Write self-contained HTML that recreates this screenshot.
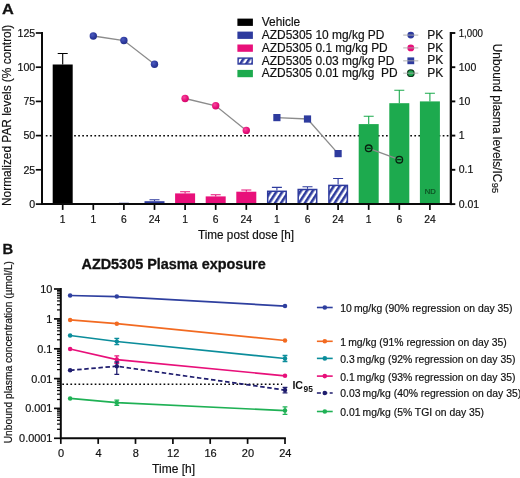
<!DOCTYPE html>
<html lang="en"><head><meta charset="utf-8"><title>AZD5305 PK/PD</title>
<style>html,body{margin:0;padding:0;background:#fff}svg{display:block}text{font-family:"Liberation Sans", Arial, Helvetica, sans-serif;fill:#111;stroke:#111;stroke-width:0.18px}</style>
</head><body>
<svg width="520" height="478" viewBox="0 0 520 478">
<rect width="520" height="478" fill="#fff"/>
<defs><pattern id="hatch" width="5" height="5" patternUnits="userSpaceOnUse" patternTransform="rotate(33)"><rect width="5" height="5" fill="#fff"/><rect width="2.6" height="5" fill="#2e3b9e"/></pattern>
<radialGradient id="gb" cx="0.38" cy="0.35" r="0.7"><stop offset="0" stop-color="#4c5bc0"/><stop offset="0.6" stop-color="#2e3b9e"/><stop offset="1" stop-color="#232e86"/></radialGradient>
<radialGradient id="gp" cx="0.38" cy="0.35" r="0.7"><stop offset="0" stop-color="#f54a9e"/><stop offset="0.6" stop-color="#e8107a"/><stop offset="1" stop-color="#cc0a68"/></radialGradient>
</defs>
<text transform="translate(2.0 13.8)" font-size="15.2" font-weight="bold" textLength="11.8" lengthAdjust="spacingAndGlyphs" style="stroke:#111;stroke-width:0.3px">A</text>
<line x1="45.8" y1="135.7" x2="449" y2="135.7" stroke="#0a0a0a" stroke-width="1.6" stroke-dasharray="1.7 2.35"/>
<path d="M62.7 64.5 V53.5 M57.7 53.5 H67.7" stroke="#000" stroke-width="1.1" fill="none"/>
<rect x="52.7" y="64.5" width="20" height="139.6" fill="#000"/>
<path d="M93.3 203.8 V203.7 M88.3 203.7 H98.3" stroke="#2e3b9e" stroke-width="1.1" fill="none"/>
<rect x="83.3" y="203.8" width="20" height="0.2" fill="#2e3b9e"/>
<path d="M123.9 203.5 V203.2 M118.9 203.2 H128.9" stroke="#2e3b9e" stroke-width="1.1" fill="none"/>
<rect x="113.9" y="203.5" width="20" height="0.5" fill="#2e3b9e"/>
<path d="M154.5 201.2 V199.8 M149.5 199.8 H159.5" stroke="#2e3b9e" stroke-width="1.1" fill="none"/>
<rect x="144.5" y="201.2" width="20" height="2.9" fill="#2e3b9e"/>
<path d="M185.1 193.4 V191.7 M180.1 191.7 H190.1" stroke="#e8107a" stroke-width="1.1" fill="none"/>
<rect x="175.1" y="193.4" width="20" height="10.7" fill="#e8107a"/>
<path d="M215.7 196.4 V194.7 M210.7 194.7 H220.7" stroke="#e8107a" stroke-width="1.1" fill="none"/>
<rect x="205.7" y="196.4" width="20" height="7.7" fill="#e8107a"/>
<path d="M246.3 191.7 V190.0 M241.3 190.0 H251.3" stroke="#e8107a" stroke-width="1.1" fill="none"/>
<rect x="236.3" y="191.7" width="20" height="12.3" fill="#e8107a"/>
<path d="M276.9 190.5 V187.4 M271.9 187.4 H281.9" stroke="#2e3b9e" stroke-width="1.1" fill="none"/>
<rect x="267.7" y="191.3" width="18.5" height="12.8" fill="url(#hatch)" stroke="#2e3b9e" stroke-width="1.5"/>
<path d="M307.5 188.7 V186.7 M302.5 186.7 H312.5" stroke="#2e3b9e" stroke-width="1.1" fill="none"/>
<rect x="298.2" y="189.5" width="18.5" height="14.6" fill="url(#hatch)" stroke="#2e3b9e" stroke-width="1.5"/>
<path d="M338.1 184.6 V178.5 M333.1 178.5 H343.1" stroke="#2e3b9e" stroke-width="1.1" fill="none"/>
<rect x="328.9" y="185.4" width="18.5" height="18.7" fill="url(#hatch)" stroke="#2e3b9e" stroke-width="1.5"/>
<path d="M368.7 124.1 V116.2 M363.7 116.2 H373.7" stroke="#1daa4e" stroke-width="1.1" fill="none"/>
<rect x="358.7" y="124.1" width="20" height="79.9" fill="#1daa4e"/>
<path d="M399.3 103.2 V90.2 M394.3 90.2 H404.3" stroke="#1daa4e" stroke-width="1.1" fill="none"/>
<rect x="389.3" y="103.2" width="20" height="100.9" fill="#1daa4e"/>
<path d="M429.9 101.4 V93.2 M424.9 93.2 H434.9" stroke="#1daa4e" stroke-width="1.1" fill="none"/>
<rect x="419.9" y="101.4" width="20" height="102.6" fill="#1daa4e"/>
<path d="M42 32.1 V204.1 H451.9" stroke="#0a0a0a" stroke-width="2" fill="none" stroke-linejoin="miter"/>
<line x1="450.85" y1="32.0" x2="450.85" y2="205.1" stroke="#0a0a0a" stroke-width="2.25"/>
<line x1="35.8" y1="204.1" x2="42" y2="204.1" stroke="#0a0a0a" stroke-width="1.7"/>
<text transform="translate(35.2 207.8) scale(1.020 1)" font-size="10.4" text-anchor="end">0</text>
<line x1="35.8" y1="169.8" x2="42" y2="169.8" stroke="#0a0a0a" stroke-width="1.7"/>
<text transform="translate(35.2 173.5) scale(1.020 1)" font-size="10.4" text-anchor="end">25</text>
<line x1="35.8" y1="135.6" x2="42" y2="135.6" stroke="#0a0a0a" stroke-width="1.7"/>
<text transform="translate(35.2 139.3) scale(1.020 1)" font-size="10.4" text-anchor="end">50</text>
<line x1="35.8" y1="101.4" x2="42" y2="101.4" stroke="#0a0a0a" stroke-width="1.7"/>
<text transform="translate(35.2 105.1) scale(1.020 1)" font-size="10.4" text-anchor="end">75</text>
<line x1="35.8" y1="67.2" x2="42" y2="67.2" stroke="#0a0a0a" stroke-width="1.7"/>
<text transform="translate(35.2 70.9) scale(1.020 1)" font-size="10.4" text-anchor="end">100</text>
<line x1="35.8" y1="33.0" x2="42" y2="33.0" stroke="#0a0a0a" stroke-width="1.7"/>
<text transform="translate(35.2 36.7) scale(1.020 1)" font-size="10.4" text-anchor="end">125</text>
<line x1="62.7" y1="204.1" x2="62.7" y2="209.9" stroke="#0a0a0a" stroke-width="1.7"/>
<text transform="translate(62.7 223.2)" font-size="10.3" text-anchor="middle">1</text>
<line x1="93.3" y1="204.1" x2="93.3" y2="209.9" stroke="#0a0a0a" stroke-width="1.7"/>
<text transform="translate(93.3 223.2)" font-size="10.3" text-anchor="middle">1</text>
<line x1="123.9" y1="204.1" x2="123.9" y2="209.9" stroke="#0a0a0a" stroke-width="1.7"/>
<text transform="translate(123.9 223.2)" font-size="10.3" text-anchor="middle">6</text>
<line x1="154.5" y1="204.1" x2="154.5" y2="209.9" stroke="#0a0a0a" stroke-width="1.7"/>
<text transform="translate(154.5 223.2)" font-size="10.3" text-anchor="middle">24</text>
<line x1="185.1" y1="204.1" x2="185.1" y2="209.9" stroke="#0a0a0a" stroke-width="1.7"/>
<text transform="translate(185.1 223.2)" font-size="10.3" text-anchor="middle">1</text>
<line x1="215.7" y1="204.1" x2="215.7" y2="209.9" stroke="#0a0a0a" stroke-width="1.7"/>
<text transform="translate(215.7 223.2)" font-size="10.3" text-anchor="middle">6</text>
<line x1="246.3" y1="204.1" x2="246.3" y2="209.9" stroke="#0a0a0a" stroke-width="1.7"/>
<text transform="translate(246.3 223.2)" font-size="10.3" text-anchor="middle">24</text>
<line x1="276.9" y1="204.1" x2="276.9" y2="209.9" stroke="#0a0a0a" stroke-width="1.7"/>
<text transform="translate(276.9 223.2)" font-size="10.3" text-anchor="middle">1</text>
<line x1="307.5" y1="204.1" x2="307.5" y2="209.9" stroke="#0a0a0a" stroke-width="1.7"/>
<text transform="translate(307.5 223.2)" font-size="10.3" text-anchor="middle">6</text>
<line x1="338.1" y1="204.1" x2="338.1" y2="209.9" stroke="#0a0a0a" stroke-width="1.7"/>
<text transform="translate(338.1 223.2)" font-size="10.3" text-anchor="middle">24</text>
<line x1="368.7" y1="204.1" x2="368.7" y2="209.9" stroke="#0a0a0a" stroke-width="1.7"/>
<text transform="translate(368.7 223.2)" font-size="10.3" text-anchor="middle">1</text>
<line x1="399.3" y1="204.1" x2="399.3" y2="209.9" stroke="#0a0a0a" stroke-width="1.7"/>
<text transform="translate(399.3 223.2)" font-size="10.3" text-anchor="middle">6</text>
<line x1="429.9" y1="204.1" x2="429.9" y2="209.9" stroke="#0a0a0a" stroke-width="1.7"/>
<text transform="translate(429.9 223.2)" font-size="10.3" text-anchor="middle">24</text>
<line x1="450.5" y1="33.0" x2="455.3" y2="33.0" stroke="#0a0a0a" stroke-width="1.9"/>
<text transform="translate(458.7 36.6)" font-size="10.5" textLength="24.3" lengthAdjust="spacingAndGlyphs">1,000</text>
<line x1="450.5" y1="67.2" x2="455.3" y2="67.2" stroke="#0a0a0a" stroke-width="1.9"/>
<text transform="translate(458.7 70.8)" font-size="10.5">100</text>
<line x1="450.5" y1="101.4" x2="455.3" y2="101.4" stroke="#0a0a0a" stroke-width="1.9"/>
<text transform="translate(458.7 105.0)" font-size="10.5">10</text>
<line x1="450.5" y1="135.6" x2="455.3" y2="135.6" stroke="#0a0a0a" stroke-width="1.9"/>
<text transform="translate(458.7 139.2)" font-size="10.5">1</text>
<line x1="450.5" y1="169.8" x2="455.3" y2="169.8" stroke="#0a0a0a" stroke-width="1.9"/>
<text transform="translate(458.7 173.4)" font-size="10.5">0.1</text>
<line x1="450.5" y1="204.1" x2="455.3" y2="204.1" stroke="#0a0a0a" stroke-width="1.9"/>
<text transform="translate(458.7 207.7)" font-size="10.5">0.01</text>
<text transform="translate(11.4 206.0) rotate(-90)" font-size="12" textLength="181.3" lengthAdjust="spacingAndGlyphs">Normalized PAR levels (% control)</text>
<text transform="translate(198.0 238.7)" font-size="12" textLength="96.0" lengthAdjust="spacingAndGlyphs">Time post dose [h]</text>
<text transform="translate(493.1 43.8) rotate(90)" font-size="12" textLength="149.3" lengthAdjust="spacingAndGlyphs">Unbound plasma levels/IC<tspan font-size="9.3" dx="0.6" dy="1.3">95</tspan></text>
<path d="M93.3 36.0 L123.9 40.5 L154.5 64.3" stroke="#8c8c8c" stroke-width="1.3" fill="none"/>
<circle cx="93.3" cy="36.0" r="3.7" fill="url(#gb)"/>
<circle cx="123.9" cy="40.5" r="3.7" fill="url(#gb)"/>
<circle cx="154.5" cy="64.3" r="3.7" fill="url(#gb)"/>
<path d="M185.1 98.5 L215.7 105.8 L246.3 130.4" stroke="#8c8c8c" stroke-width="1.3" fill="none"/>
<circle cx="185.1" cy="98.5" r="3.7" fill="url(#gp)"/>
<circle cx="215.7" cy="105.8" r="3.7" fill="url(#gp)"/>
<circle cx="246.3" cy="130.4" r="3.7" fill="url(#gp)"/>
<path d="M276.9 117.6 L307.5 119.0 L338.1 153.6" stroke="#8c8c8c" stroke-width="1.3" fill="none"/>
<rect x="273.3" y="114.0" width="7.2" height="7.2" fill="#2e3b9e"/>
<rect x="303.9" y="115.4" width="7.2" height="7.2" fill="#2e3b9e"/>
<rect x="334.5" y="150.0" width="7.2" height="7.2" fill="#2e3b9e"/>
<path d="M368.7 148.3 L399.3 159.7" stroke="#8c8c8c" stroke-width="1.3" fill="none"/>
<circle cx="368.7" cy="148.3" r="3.3" fill="#1daa4e" stroke="#07210f" stroke-width="1.3"/>
<line x1="366.5" y1="148.3" x2="370.9" y2="148.3" stroke="#07210f" stroke-width="1.1"/>
<circle cx="399.3" cy="159.7" r="3.3" fill="#1daa4e" stroke="#07210f" stroke-width="1.3"/>
<line x1="397.1" y1="159.7" x2="401.5" y2="159.7" stroke="#07210f" stroke-width="1.1"/>
<text transform="translate(430.2 194.4)" font-size="7.6" text-anchor="middle" style="fill:#0c4a20;stroke:#0c4a20">ND</text>
<rect x="237.4" y="18.6" width="15.5" height="7.3" fill="#000"/>
<text transform="translate(261.8 26.0)" font-size="11.93" xml:space="preserve">Vehicle</text>
<rect x="237.4" y="31.6" width="15.5" height="7.3" fill="#2e3b9e"/>
<text transform="translate(261.8 39.0)" font-size="11.93" xml:space="preserve">AZD5305 10 mg/kg PD</text>
<rect x="237.4" y="44.5" width="15.5" height="7.3" fill="#e8107a"/>
<text transform="translate(261.8 51.9)" font-size="11.93" xml:space="preserve">AZD5305 0.1 mg/kg PD</text>
<rect x="238.1" y="58.1" width="14.1" height="5.9" fill="url(#hatch)" stroke="#2e3b9e" stroke-width="1.4"/>
<text transform="translate(261.8 64.8)" font-size="11.93" xml:space="preserve">AZD5305 0.03 mg/kg PD</text>
<rect x="237.4" y="69.9" width="15.5" height="7.3" fill="#1daa4e"/>
<text transform="translate(261.8 77.3)" font-size="11.93" xml:space="preserve">AZD5305 0.01 mg/kg  PD</text>
<circle cx="410.8" cy="35.1" r="3.45" fill="#2e3b9e"/>
<line x1="403.2" y1="35.1" x2="418.3" y2="35.1" stroke="#a8a8a8" stroke-width="1.2" opacity="0.75"/>
<text transform="translate(427.2 38.6)" font-size="12">PK</text>
<circle cx="410.8" cy="47.9" r="3.45" fill="#e8107a"/>
<line x1="403.2" y1="47.9" x2="418.3" y2="47.9" stroke="#a8a8a8" stroke-width="1.2" opacity="0.75"/>
<text transform="translate(427.2 51.5)" font-size="12">PK</text>
<rect x="407.4" y="57.4" width="6.8" height="6.8" fill="#2e3b9e"/>
<line x1="403.2" y1="60.8" x2="418.3" y2="60.8" stroke="#a8a8a8" stroke-width="1.2" opacity="0.75"/>
<text transform="translate(427.2 64.2)" font-size="12">PK</text>
<circle cx="410.8" cy="73.2" r="3.3" fill="#1daa4e" stroke="#0c3a1c" stroke-width="1.2"/>
<line x1="403.2" y1="73.2" x2="418.3" y2="73.2" stroke="#a8a8a8" stroke-width="1.2" opacity="0.75"/>
<text transform="translate(427.2 77.0)" font-size="12">PK</text>
<text transform="translate(2.5 253.7)" font-size="15.4" font-weight="bold" textLength="10.7" lengthAdjust="spacingAndGlyphs" style="stroke:#111;stroke-width:0.3px">B</text>
<text transform="translate(81.5 268.8)" font-size="13.9" font-weight="bold" textLength="184.2" lengthAdjust="spacingAndGlyphs" style="stroke:#111;stroke-width:0.3px">AZD5305 Plasma exposure</text>
<line x1="62.3" y1="384.3" x2="282.2" y2="384.3" stroke="#0a0a0a" stroke-width="1.6" stroke-dasharray="1.7 2.35"/>
<path d="M60.8 288.1 V438.3 H285.9" stroke="#0a0a0a" stroke-width="2" fill="none"/>
<line x1="54" y1="438.3" x2="60.8" y2="438.3" stroke="#0a0a0a" stroke-width="1.7"/>
<text transform="translate(52.4 442.3)" font-size="10.9" text-anchor="end">0.0001</text>
<line x1="57" y1="429.3" x2="60.8" y2="429.3" stroke="#0a0a0a" stroke-width="1.25"/>
<line x1="57" y1="424.1" x2="60.8" y2="424.1" stroke="#0a0a0a" stroke-width="1.25"/>
<line x1="57" y1="420.3" x2="60.8" y2="420.3" stroke="#0a0a0a" stroke-width="1.25"/>
<line x1="57" y1="417.4" x2="60.8" y2="417.4" stroke="#0a0a0a" stroke-width="1.25"/>
<line x1="57" y1="415.1" x2="60.8" y2="415.1" stroke="#0a0a0a" stroke-width="1.25"/>
<line x1="57" y1="413.1" x2="60.8" y2="413.1" stroke="#0a0a0a" stroke-width="1.25"/>
<line x1="57" y1="411.3" x2="60.8" y2="411.3" stroke="#0a0a0a" stroke-width="1.25"/>
<line x1="57" y1="409.8" x2="60.8" y2="409.8" stroke="#0a0a0a" stroke-width="1.25"/>
<line x1="54" y1="408.4" x2="60.8" y2="408.4" stroke="#0a0a0a" stroke-width="1.7"/>
<text transform="translate(52.4 412.4)" font-size="10.9" text-anchor="end">0.001</text>
<line x1="57" y1="399.5" x2="60.8" y2="399.5" stroke="#0a0a0a" stroke-width="1.25"/>
<line x1="57" y1="394.2" x2="60.8" y2="394.2" stroke="#0a0a0a" stroke-width="1.25"/>
<line x1="57" y1="390.5" x2="60.8" y2="390.5" stroke="#0a0a0a" stroke-width="1.25"/>
<line x1="57" y1="387.6" x2="60.8" y2="387.6" stroke="#0a0a0a" stroke-width="1.25"/>
<line x1="57" y1="385.2" x2="60.8" y2="385.2" stroke="#0a0a0a" stroke-width="1.25"/>
<line x1="57" y1="383.2" x2="60.8" y2="383.2" stroke="#0a0a0a" stroke-width="1.25"/>
<line x1="57" y1="381.5" x2="60.8" y2="381.5" stroke="#0a0a0a" stroke-width="1.25"/>
<line x1="57" y1="380.0" x2="60.8" y2="380.0" stroke="#0a0a0a" stroke-width="1.25"/>
<line x1="54" y1="378.6" x2="60.8" y2="378.6" stroke="#0a0a0a" stroke-width="1.7"/>
<text transform="translate(52.4 382.6)" font-size="10.9" text-anchor="end">0.01</text>
<line x1="57" y1="369.6" x2="60.8" y2="369.6" stroke="#0a0a0a" stroke-width="1.25"/>
<line x1="57" y1="364.4" x2="60.8" y2="364.4" stroke="#0a0a0a" stroke-width="1.25"/>
<line x1="57" y1="360.6" x2="60.8" y2="360.6" stroke="#0a0a0a" stroke-width="1.25"/>
<line x1="57" y1="357.7" x2="60.8" y2="357.7" stroke="#0a0a0a" stroke-width="1.25"/>
<line x1="57" y1="355.4" x2="60.8" y2="355.4" stroke="#0a0a0a" stroke-width="1.25"/>
<line x1="57" y1="353.4" x2="60.8" y2="353.4" stroke="#0a0a0a" stroke-width="1.25"/>
<line x1="57" y1="351.6" x2="60.8" y2="351.6" stroke="#0a0a0a" stroke-width="1.25"/>
<line x1="57" y1="350.1" x2="60.8" y2="350.1" stroke="#0a0a0a" stroke-width="1.25"/>
<line x1="54" y1="348.8" x2="60.8" y2="348.8" stroke="#0a0a0a" stroke-width="1.7"/>
<text transform="translate(52.4 352.8)" font-size="10.9" text-anchor="end">0.1</text>
<line x1="57" y1="339.8" x2="60.8" y2="339.8" stroke="#0a0a0a" stroke-width="1.25"/>
<line x1="57" y1="334.5" x2="60.8" y2="334.5" stroke="#0a0a0a" stroke-width="1.25"/>
<line x1="57" y1="330.8" x2="60.8" y2="330.8" stroke="#0a0a0a" stroke-width="1.25"/>
<line x1="57" y1="327.9" x2="60.8" y2="327.9" stroke="#0a0a0a" stroke-width="1.25"/>
<line x1="57" y1="325.5" x2="60.8" y2="325.5" stroke="#0a0a0a" stroke-width="1.25"/>
<line x1="57" y1="323.5" x2="60.8" y2="323.5" stroke="#0a0a0a" stroke-width="1.25"/>
<line x1="57" y1="321.8" x2="60.8" y2="321.8" stroke="#0a0a0a" stroke-width="1.25"/>
<line x1="57" y1="320.3" x2="60.8" y2="320.3" stroke="#0a0a0a" stroke-width="1.25"/>
<line x1="54" y1="318.9" x2="60.8" y2="318.9" stroke="#0a0a0a" stroke-width="1.7"/>
<text transform="translate(52.4 322.9)" font-size="10.9" text-anchor="end">1</text>
<line x1="57" y1="309.9" x2="60.8" y2="309.9" stroke="#0a0a0a" stroke-width="1.25"/>
<line x1="57" y1="304.7" x2="60.8" y2="304.7" stroke="#0a0a0a" stroke-width="1.25"/>
<line x1="57" y1="300.9" x2="60.8" y2="300.9" stroke="#0a0a0a" stroke-width="1.25"/>
<line x1="57" y1="298.0" x2="60.8" y2="298.0" stroke="#0a0a0a" stroke-width="1.25"/>
<line x1="57" y1="295.7" x2="60.8" y2="295.7" stroke="#0a0a0a" stroke-width="1.25"/>
<line x1="57" y1="293.7" x2="60.8" y2="293.7" stroke="#0a0a0a" stroke-width="1.25"/>
<line x1="57" y1="291.9" x2="60.8" y2="291.9" stroke="#0a0a0a" stroke-width="1.25"/>
<line x1="57" y1="290.4" x2="60.8" y2="290.4" stroke="#0a0a0a" stroke-width="1.25"/>
<line x1="54" y1="289.0" x2="60.8" y2="289.0" stroke="#0a0a0a" stroke-width="1.7"/>
<text transform="translate(52.4 293.0)" font-size="10.9" text-anchor="end">10</text>
<line x1="60.8" y1="438.3" x2="60.8" y2="443.9" stroke="#0a0a0a" stroke-width="1.7"/>
<text transform="translate(61.1 456.6)" font-size="11" text-anchor="middle">0</text>
<line x1="98.2" y1="438.3" x2="98.2" y2="443.9" stroke="#0a0a0a" stroke-width="1.7"/>
<text transform="translate(98.5 456.6)" font-size="11" text-anchor="middle">4</text>
<line x1="135.5" y1="438.3" x2="135.5" y2="443.9" stroke="#0a0a0a" stroke-width="1.7"/>
<text transform="translate(135.8 456.6)" font-size="11" text-anchor="middle">8</text>
<line x1="172.9" y1="438.3" x2="172.9" y2="443.9" stroke="#0a0a0a" stroke-width="1.7"/>
<text transform="translate(173.2 456.6)" font-size="11" text-anchor="middle">12</text>
<line x1="210.2" y1="438.3" x2="210.2" y2="443.9" stroke="#0a0a0a" stroke-width="1.7"/>
<text transform="translate(210.5 456.6)" font-size="11" text-anchor="middle">16</text>
<line x1="247.6" y1="438.3" x2="247.6" y2="443.9" stroke="#0a0a0a" stroke-width="1.7"/>
<text transform="translate(247.9 456.6)" font-size="11" text-anchor="middle">20</text>
<line x1="285.0" y1="438.3" x2="285.0" y2="443.9" stroke="#0a0a0a" stroke-width="1.7"/>
<text transform="translate(285.3 456.6)" font-size="11" text-anchor="middle">24</text>
<text transform="translate(152.1 473.2)" font-size="12">Time [h]</text>
<text transform="translate(11.7 443.3) rotate(-90)" font-size="10.2" textLength="182.3" lengthAdjust="spacingAndGlyphs">Unbound plasma concentration (µmol/L)</text>
<path d="M70.1 295.5 L116.8 296.6 L285.0 306.1" stroke="#2e3f9f" stroke-width="1.7" fill="none"/>
<circle cx="70.1" cy="295.5" r="2.25" fill="#2e3f9f"/>
<circle cx="116.8" cy="296.6" r="2.25" fill="#2e3f9f"/>
<circle cx="285.0" cy="306.1" r="2.25" fill="#2e3f9f"/>
<path d="M70.1 319.9 L116.8 323.7 L285.0 340.5" stroke="#f26a21" stroke-width="1.7" fill="none"/>
<circle cx="70.1" cy="319.9" r="2.25" fill="#f26a21"/>
<circle cx="116.8" cy="323.7" r="2.25" fill="#f26a21"/>
<circle cx="285.0" cy="340.5" r="2.25" fill="#f26a21"/>
<path d="M70.1 335.5 L116.8 341.5 L285.0 358.5" stroke="#0b8d9b" stroke-width="1.7" fill="none"/>
<circle cx="70.1" cy="335.5" r="2.25" fill="#0b8d9b"/>
<path d="M116.8 338.3 V344.7 M114.4 338.3 H119.2 M114.4 344.7 H119.2" stroke="#0b8d9b" stroke-width="1.3" fill="none"/>
<circle cx="116.8" cy="341.5" r="2.25" fill="#0b8d9b"/>
<path d="M285.0 355.5 V361.5 M282.6 355.5 H287.4 M282.6 361.5 H287.4" stroke="#0b8d9b" stroke-width="1.3" fill="none"/>
<circle cx="285.0" cy="358.5" r="2.25" fill="#0b8d9b"/>
<path d="M70.1 349.0 L116.8 359.6 L285.0 375.8" stroke="#e8107a" stroke-width="1.7" fill="none"/>
<circle cx="70.1" cy="349.0" r="2.25" fill="#e8107a"/>
<path d="M116.8 355.8 V363.4 M114.4 355.8 H119.2 M114.4 363.4 H119.2" stroke="#e8107a" stroke-width="1.3" fill="none"/>
<circle cx="116.8" cy="359.6" r="2.25" fill="#e8107a"/>
<circle cx="285.0" cy="375.8" r="2.25" fill="#e8107a"/>
<path d="M70.1 370.3 L116.8 366.2 L285.0 390.1" stroke="#1f1d6e" stroke-width="1.7" fill="none" stroke-dasharray="4.5 2.6"/>
<circle cx="70.1" cy="370.3" r="2.25" fill="#1f1d6e"/>
<path d="M116.8 362.0 V374.4 M114.4 362.0 H119.2 M114.4 374.4 H119.2" stroke="#1f1d6e" stroke-width="1.3" fill="none"/>
<circle cx="116.8" cy="366.2" r="2.25" fill="#1f1d6e"/>
<path d="M285.0 387.3 V392.9 M282.6 387.3 H287.4 M282.6 392.9 H287.4" stroke="#1f1d6e" stroke-width="1.3" fill="none"/>
<circle cx="285.0" cy="390.1" r="2.25" fill="#1f1d6e"/>
<path d="M70.1 398.4 L116.8 402.7 L285.0 410.6" stroke="#1fb155" stroke-width="1.7" fill="none"/>
<circle cx="70.1" cy="398.4" r="2.25" fill="#1fb155"/>
<path d="M116.8 400.1 V405.3 M114.4 400.1 H119.2 M114.4 405.3 H119.2" stroke="#1fb155" stroke-width="1.3" fill="none"/>
<circle cx="116.8" cy="402.7" r="2.25" fill="#1fb155"/>
<path d="M285.0 406.9 V414.3 M282.6 406.9 H287.4 M282.6 414.3 H287.4" stroke="#1fb155" stroke-width="1.3" fill="none"/>
<circle cx="285.0" cy="410.6" r="2.25" fill="#1fb155"/>
<text transform="translate(292.4 388.9)" font-size="10.7" font-weight="bold" style="stroke:none">IC<tspan font-size="8.4" dx="0.5" dy="2.9">95</tspan></text>
<line x1="316.9" y1="307.5" x2="332.7" y2="307.5" stroke="#2e3f9f" stroke-width="1.6"/>
<circle cx="324.8" cy="307.5" r="2.3" fill="#2e3f9f"/>
<text transform="translate(340.3 311.9)" font-size="10.38">10 mg/kg (90% regression on day 35)</text>
<line x1="316.9" y1="341.3" x2="332.7" y2="341.3" stroke="#f26a21" stroke-width="1.6"/>
<circle cx="324.8" cy="341.3" r="2.3" fill="#f26a21"/>
<text transform="translate(340.3 345.7)" font-size="10.38">1 mg/kg (91% regression on day 35)</text>
<line x1="316.9" y1="358.4" x2="332.7" y2="358.4" stroke="#0b8d9b" stroke-width="1.6"/>
<circle cx="324.8" cy="358.4" r="2.3" fill="#0b8d9b"/>
<text transform="translate(340.3 362.8)" font-size="10.38">0.3 mg/kg (92% regression on day 35)</text>
<line x1="316.9" y1="376.1" x2="332.7" y2="376.1" stroke="#e8107a" stroke-width="1.6"/>
<circle cx="324.8" cy="376.1" r="2.3" fill="#e8107a"/>
<text transform="translate(340.3 380.5)" font-size="10.38">0.1 mg/kg (93% regression on day 35)</text>
<line x1="316.9" y1="393.0" x2="332.7" y2="393.0" stroke="#1f1d6e" stroke-width="1.6" stroke-dasharray="4 2.4"/>
<circle cx="324.8" cy="393.0" r="2.3" fill="#1f1d6e"/>
<text transform="translate(340.3 397.4)" font-size="10.38">0.03 mg/kg (40% regression on day 35)</text>
<line x1="316.9" y1="411.5" x2="332.7" y2="411.5" stroke="#1fb155" stroke-width="1.6"/>
<circle cx="324.8" cy="411.5" r="2.3" fill="#1fb155"/>
<text transform="translate(340.3 415.9)" font-size="10.38">0.01 mg/kg (5% TGI on day 35)</text>
</svg></body></html>
